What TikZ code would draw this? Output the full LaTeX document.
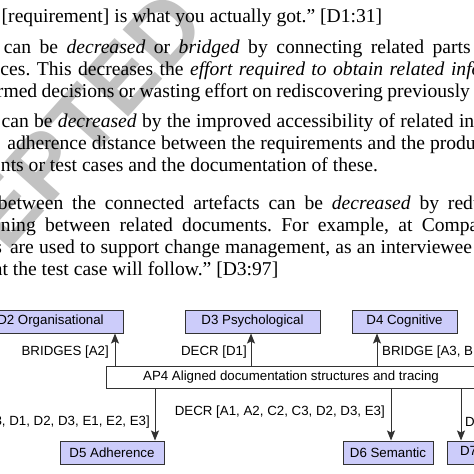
\documentclass[tikz,border=0pt]{standalone}
\usepackage{fontspec}
\setmainfont{Liberation Serif}
\newfontfamily\diagfont{Liberation Sans}
\usetikzlibrary{arrows.meta}
\definecolor{boxfill}{RGB}{204,204,250}
\definecolor{boxline}{RGB}{50,50,50}
\definecolor{wmgrey}{RGB}{194,194,194}
\begin{document}
\frenchspacing
\begin{tikzpicture}[x=1pt,y=-1pt,
  body/.style={anchor=base west, inner sep=0pt, outer sep=0pt, font=\fontsize{19.6}{22}\selectfont},
  dbox/.style={draw=boxline, line width=1pt, fill=boxfill, minimum height=23pt, inner sep=0pt, font=\diagfont\fontsize{13.3}{15}\selectfont},
  wbox/.style={draw=boxline, line width=1pt, fill=white, minimum height=22.5pt, inner sep=0pt, font=\diagfont\fontsize{13.3}{15}\selectfont},
  lab/.style={inner sep=0pt, font=\diagfont\fontsize{13.3}{15}\selectfont},
  arr/.style={draw=boxline, line width=1pt, -{Stealth[length=10pt,width=8pt,inset=2pt]}},
  wmark/.style={inner sep=0pt, text=wmgrey, font=\diagfont\bfseries\fontsize{91}{91}\selectfont}]
\useasboundingbox (0,0) rectangle (474,474);
\clip (0,0) rectangle (474,474);
\fill[white] (0,0) rectangle (474,474);
% watermark
\node[wmark, rotate=48, anchor=base east] (wm) at (209.6,27.6) {ACCEPTED};
% body text
\node[body] (l1) at (1.7,22.5) {[requirement] is what you actually got.” [D1:31]};
\node[body] (l2) at (4,53) {\makebox[466.7pt][s]{can be \textit{decreased} or \textit{bridged} by connecting related parts}};
\node[body] (l3) at (0.5,75) {\makebox[450.5pt][s]{ces. This decreases the \textit{effort required to obtain related\ }}\textit{information}};
\node[body] (l4) at (-3,97) {\makebox[473pt][s]{rmed decisions or wasting effort on rediscovering previously}};
\node[body] (l5) at (1.7,127) {\makebox[457.3pt][s]{can be \textit{decreased} by the improved accessibility of related\ }information};
\node[body] (l6) at (7.3,149) {\makebox[422.7pt][s]{adherence distance between the requirements and the\ }product};
\node[body] (l7) at (1,171.5) {\makebox[377pt][s]{nts or test cases and the documentation of these.}};
\node[body] (l8) at (-2,209.5) {\makebox[450pt][s]{between the connected artefacts can be \textit{decreased} by\ }reducing};
\node[body] (l9) at (1,231.5) {\makebox[420.7pt][s]{ning between related documents. For example, at\ }Company};
\node[body] (l10) at (10,253.5) {\llap{links\hspace{8pt}}\makebox[462pt][s]{are used to support change management, as an interviewee}};
\node[body] (l11) at (2.5,275.5) {\llap{tha}t the test case will follow.” [D3:97]};
% diagram boxes
\node[dbox, minimum width=145pt] (d2) at (50.5,321.5) {D2 Organisational};
\node[dbox, minimum width=135pt] (d3) at (252.5,321.5) {D3 Psychological};
\node[dbox, minimum width=105pt] (d4) at (404.5,321.5) {D4 Cognitive};
\node[wbox, minimum width=370pt] (ap4) at (291,377.25) {AP4 Aligned documentation structures and tracing};
\node[dbox, minimum width=104pt] (d5) at (112,452.5) {D5 Adherence};
\node[dbox, minimum width=90pt] (d6) at (388,452.5) {D6 Semantic};
\node[dbox, minimum width=120pt] (d7) at (507,452.5) {D7 Navigational};
% arrow positions
\coordinate (x2) at (115,0);
\coordinate (x3) at (251,0);
\coordinate (x4) at (377,0);
\coordinate (x5) at (155,0);
\coordinate (x6) at (391,0);
\coordinate (x7) at (461,0);
\draw[arr] (ap4.north -| x2) -- (d2.south -| x2);
\draw[arr] (ap4.north -| x3) -- (d3.south -| x3);
\draw[arr] (ap4.north -| x4) -- (d4.south -| x4);
\draw[arr] (ap4.south -| x5) -- (d5.north -| x5);
\draw[arr] (ap4.south -| x6) -- (d6.north -| x6);
\draw[arr] (ap4.south -| x7) -- (d7.north -| x7);
% labels
\node[lab, anchor=east] (lb2) at (109,352) {BRIDGES [A2]};
\node[lab, anchor=east] (lb3) at (247,352) {DECR [D1]};
\node[lab, anchor=west] (lb4) at (382,352) {BRIDGE [A3, B1]};
\node[lab, anchor=east] (lb5) at (150,422) {C3, D1, D2, D3, E1, E2, E3]};
\node[lab, anchor=east] (lb6) at (385,412) {DECR [A1, A2, C2, C3, D2, D3, E3]};
\node[lab, anchor=west] (lb7) at (465,422) {DECR};
\end{tikzpicture}
\end{document}
